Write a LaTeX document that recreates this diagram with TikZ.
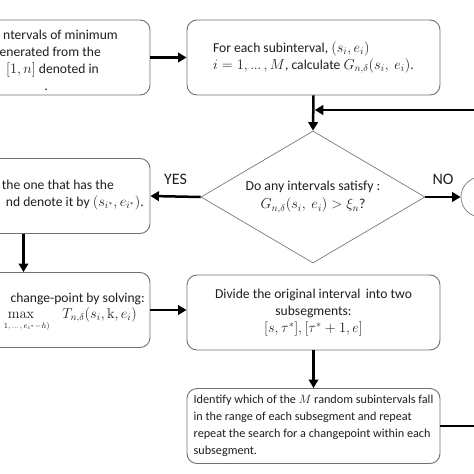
\documentclass[tikz,border=0pt]{standalone}
\usepackage[no-math]{fontspec}
\setmainfont{Carlito}
\usetikzlibrary{shapes.geometric,arrows.meta}
\definecolor{boxgray}{RGB}{112,112,112}
\definecolor{diagray}{RGB}{120,120,120}
\definecolor{txt}{RGB}{30,30,30}
\newcommand{\mth}[1]{{\fontsize{14.6}{17}\selectfont$#1$}}
\newcommand{\tdots}{\mathinner{.\mkern-0.5mu.\mkern-0.5mu.}}
\begin{document}
\begin{tikzpicture}[x=1pt,y=-1pt,
  mainfont/.style={font=\fontsize{13.6}{17}\selectfont},
  box/.style={draw=boxgray, line width=0.9pt, rounded corners=10pt,
    minimum width=253pt, minimum height=75pt, inner sep=0pt, mainfont, text=txt},
  frag/.style={anchor=base east, inner sep=0pt, mainfont, text=txt},
  dia/.style={diamond, draw=diagray, line width=0.7pt, minimum width=224pt,
    minimum height=132pt, aspect=1.7, inner sep=0pt, align=center,
    font=\fontsize{13.8}{18.5}\selectfont, text=txt},
  flow/.style={line width=2.5pt, -{Triangle[length=8.5pt,width=9.5pt]}},
  lab/.style={font=\fontsize{16}{17}\selectfont, text=txt}]
\useasboundingbox (0,0) rectangle (474,474);
\clip (0,0) rectangle (474,474);

% boxes
\node[box, align=left] (b2) at (313.5,57.5) {For each subinterval, \mth{(s_i, e_i)}\\ \mth{i=1,\tdots,M}, calculate \mth{G_{n,\delta}(s_i,\ e_i)}.};
\node[box] (b1) at (23.5,57.5) {};
\node[dia] (d) at (313,197) {Do any intervals satisfy :\\ \mth{G_{n,\delta}(s_i,\ e_i) > \xi_n}?};
\node[circle, draw=diagray, line width=0.7pt, minimum size=40pt] (stop) at (481,197) {};
\node[box] (b3) at (23.5,196) {};
\node[box] (b4) at (23.5,310) {};
\node[box, align=center, font=\fontsize{13.6}{17}\selectfont] (b5) at (313.5,312.5) {Divide the original interval\, into two\\ subsegments:\\ \mth{[s,\tau^*],[\tau^*+1,e]}};
\node[box, align=left, font=\fontsize{12.2}{16.8}\selectfont] (b6) at (313.5,426) {Identify which of the $M$ random subintervals fall\\ in the range of each subsegment and repeat\\ repeat the search for a changepoint within each\\ subsegment.};

% visible text fragments of the cut boxes
\node[frag] (t1a) at (118,39) {ntervals of minimum};
\node[frag] (t1b) at (101,56) {enerated from the};
\node[frag] (t1c) at (99,73) {\mth{[1,n]} denoted in};
\node[frag] (t1d) at (48,90) {.};
\node[frag] (t3a) at (114,189) {the one that has the};
\node[frag] (t3b) at (144,206) {nd denote it by \mth{(s_{i^*}, e_{i^*})}.};
\node[frag] (t4a) at (145,302) {change-point by solving:};
\node[frag, anchor=base] (t4m) at (21,318) {\mth{\max}};
\node[frag, font=\fontsize{8}{9}\selectfont] (t4s) at (50,328) {$1,\tdots,e_{i^*}{-}h)$};
\node[frag] (t4t) at (137,318) {\mth{T_{n,\delta}(s_i,\mathrm{k},e_i)}};

% connectors
\coordinate (lpA) at (500,426);
\coordinate (lpB) at (500,110);
\draw[flow] (b1.east) -- (b2.west);
\draw[flow] (b2.south) -- (d.north);
\draw[flow] (b6.east) -- (lpA) -- (lpB) -- ([xshift=1.25pt]b2.south |- lpB);
\draw[flow] (d.east) -- (stop.west) node[midway, above=8pt, lab] {NO};
\draw[flow] (d.west) -- (b3.east) node[midway, above=7pt, lab] {YES};
\draw[flow] (b3.south) -- (b4.north);
\draw[flow] (b4.east) -- (b4.east -| b5.west);
\draw[flow] (b5.south) -- (b6.north);
\end{tikzpicture}
\end{document}
